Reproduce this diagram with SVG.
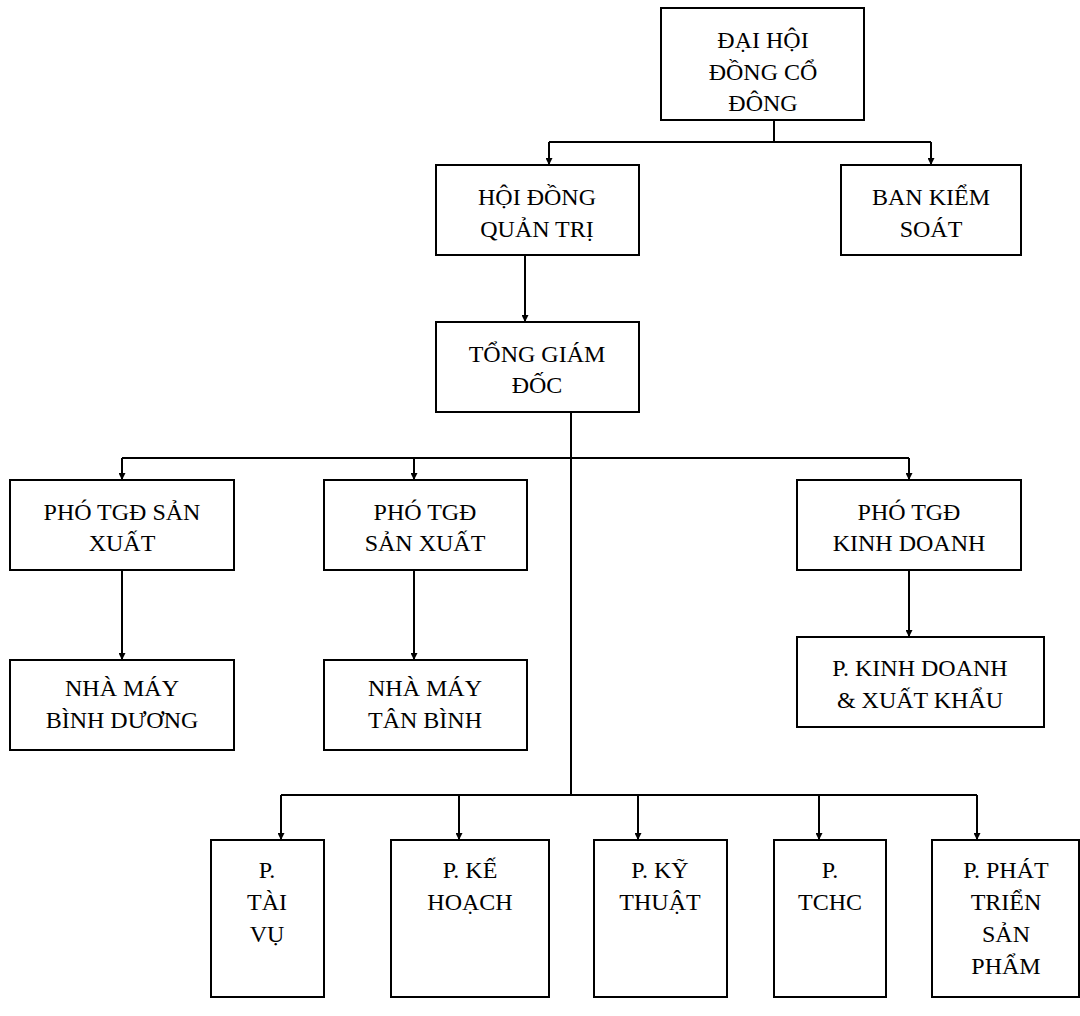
<svg xmlns="http://www.w3.org/2000/svg" width="1080" height="1016" viewBox="0 0 1080 1016">
<style>
rect{fill:#fff;stroke:#000;stroke-width:2}
text{font-family:"Liberation Serif","Times New Roman",serif;font-size:24px;text-anchor:middle;fill:#000}
.c{fill:none;stroke:#000;stroke-width:2}
</style>
<defs><marker id="a" viewBox="0 0 10 10" refX="10" refY="5" markerWidth="7" markerHeight="7" orient="auto" markerUnits="userSpaceOnUse"><path d="M0,0L10,5L0,10z" fill="#000"/></marker></defs>
<rect width="1080" height="1016" style="stroke:none"/>
<g id="connectors">
<path class="c" d="M774,120V142M549,142H931"/>
<path class="c" d="M549,142V165" marker-end="url(#a)"/>
<path class="c" d="M931,142V165" marker-end="url(#a)"/>
<path class="c" d="M525,255V322" marker-end="url(#a)"/>
<path class="c" d="M571,412V795M122,458H909"/>
<path class="c" d="M122,458V480" marker-end="url(#a)"/>
<path class="c" d="M414,458V480" marker-end="url(#a)"/>
<path class="c" d="M909,458V480" marker-end="url(#a)"/>
<path class="c" d="M122,570V660" marker-end="url(#a)"/>
<path class="c" d="M414,570V660" marker-end="url(#a)"/>
<path class="c" d="M909,570V637" marker-end="url(#a)"/>
<path class="c" d="M281,795H977"/>
<path class="c" d="M281,795V840" marker-end="url(#a)"/>
<path class="c" d="M459,795V840" marker-end="url(#a)"/>
<path class="c" d="M638,795V840" marker-end="url(#a)"/>
<path class="c" d="M819,795V840" marker-end="url(#a)"/>
<path class="c" d="M977,795V840" marker-end="url(#a)"/>
</g>
<g id="dhdcd"><rect x="661" y="8" width="203" height="112"/><text x="763" y="48">ĐẠI HỘI</text><text x="763" y="80">ĐỒNG CỔ</text><text x="763" y="111">ĐÔNG</text></g>
<g id="hdqt"><rect x="436" y="165" width="203" height="90"/><text x="537" y="205">HỘI ĐỒNG</text><text x="537" y="237">QUẢN TRỊ</text></g>
<g id="bks"><rect x="841" y="165" width="180" height="90"/><text x="931" y="205">BAN KIỂM</text><text x="931" y="237">SOÁT</text></g>
<g id="tgd"><rect x="436" y="322" width="203" height="90"/><text x="537" y="362">TỔNG GIÁM</text><text x="537" y="393">ĐỐC</text></g>
<g id="ptgd1"><rect x="10" y="480" width="224" height="90"/><text x="122" y="520">PHÓ TGĐ SẢN</text><text x="122" y="551">XUẤT</text></g>
<g id="ptgd2"><rect x="324" y="480" width="203" height="90"/><text x="425" y="520">PHÓ TGĐ</text><text x="425" y="551">SẢN XUẤT</text></g>
<g id="ptgd3"><rect x="797" y="480" width="224" height="90"/><text x="909" y="520">PHÓ TGĐ</text><text x="909" y="551">KINH DOANH</text></g>
<g id="nmbd"><rect x="10" y="660" width="224" height="90"/><text x="122" y="696">NHÀ MÁY</text><text x="122" y="728">BÌNH DƯƠNG</text></g>
<g id="nmtb"><rect x="324" y="660" width="203" height="90"/><text x="425" y="696">NHÀ MÁY</text><text x="425" y="728">TÂN BÌNH</text></g>
<g id="pkd"><rect x="797" y="637" width="247" height="90"/><text x="920" y="676">P. KINH DOANH</text><text x="920" y="708">&amp; XUẤT KHẨU</text></g>
<g id="ptv"><rect x="211" y="840" width="113" height="157"/><text x="267" y="878">P.</text><text x="267" y="910">TÀI</text><text x="267" y="942">VỤ</text></g>
<g id="pkh"><rect x="391" y="840" width="158" height="157"/><text x="470" y="878">P. KẾ</text><text x="470" y="910">HOẠCH</text></g>
<g id="pkt"><rect x="594" y="840" width="133" height="157"/><text x="660" y="878">P. KỸ</text><text x="660" y="910">THUẬT</text></g>
<g id="ptchc"><rect x="774" y="840" width="112" height="157"/><text x="830" y="878">P.</text><text x="830" y="910">TCHC</text></g>
<g id="pptsp"><rect x="932" y="840" width="147" height="157"/><text x="1006" y="878">P. PHÁT</text><text x="1006" y="910">TRIỂN</text><text x="1006" y="942">SẢN</text><text x="1006" y="974">PHẨM</text></g>
</svg>
